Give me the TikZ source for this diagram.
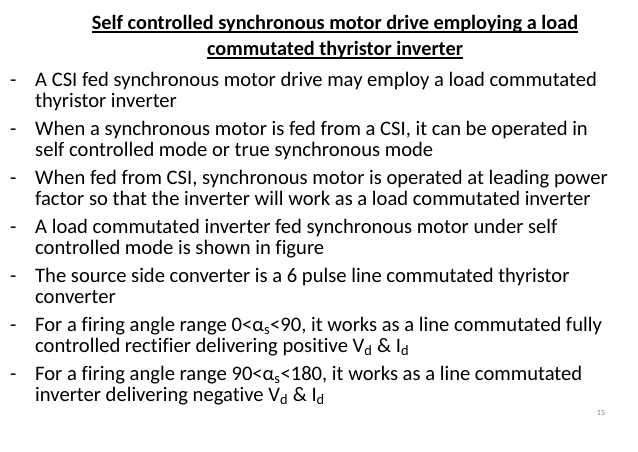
\documentclass[tikz,border=0pt]{standalone}
\usepackage{fontspec}
\setmainfont{Carlito}[Ligatures=NoCommon]
\begin{document}
\begin{tikzpicture}[x=1pt,y=-1pt,
  body/.style={anchor=base west,inner sep=0pt,font=\fontsize{20.6}{22}\selectfont},
  hyph/.style={anchor=base west,inner sep=0pt,font=\fontsize{20.6}{22}\selectfont},
  ttl/.style={anchor=base,inner sep=0pt,font=\fontsize{20.3}{22}\selectfont\bfseries}]
\useasboundingbox (0,0) rectangle (638,451);
\node[ttl] (t1) at (335,29) {Self controlled synchronous motor drive employing a load};
\node[ttl] (t2) at (335,55) {commutated thyristor inverter};
\draw[line width=1.3pt] ([yshift=-3pt]t1.base west) -- ([yshift=-3pt]t1.base east);
\draw[line width=1.3pt] ([yshift=-3pt]t2.base west) -- ([yshift=-3pt]t2.base east);
\foreach \i/\y in {1/86,2/135,3/184,4/233,5/282,6/331,7/380}{
  \node[hyph] (d\i) at (10,\y) {-};
}
\node[body] (a1) at (35,86) {A CSI fed synchronous motor drive may employ a load commutated};
\node[body] (a2) at (35,107) {thyristor inverter};
\node[body] (b1) at (35,135) {When a synchronous motor is fed from a CSI, it can be operated in};
\node[body] (b2) at (35,156) {self controlled mode or true synchronous mode};
\node[body] (c1) at (35,184) {When fed from CSI, synchronous motor is operated at leading power};
\node[body] (c2) at (35,205) {factor so that the inverter will work as a load commutated inverter};
\node[body] (e1) at (35,233) {A load commutated inverter fed synchronous motor under self};
\node[body] (e2) at (35,254) {controlled mode is shown in figure};
\node[body] (f1) at (35,282) {The source side converter is a 6 pulse line commutated thyristor};
\node[body] (f2) at (35,303) {converter};
\node[body] (g1) at (35,331) {For a firing angle range 0<α\textsubscript{s}<90, it works as a line commutated fully};
\node[body] (g2) at (35,352) {controlled rectifier delivering positive V\textsubscript{d} \& I\textsubscript{d}};
\node[body] (h1) at (35,380) {For a firing angle range 90<α\textsubscript{s}<180, it works as a line commutated};
\node[body] (h2) at (35,401) {inverter delivering negative V\textsubscript{d} \& I\textsubscript{d}};
\node[anchor=base,inner sep=0pt,font=\fontsize{8}{9}\selectfont,text=gray] (pn) at (601,415) {15};
\end{tikzpicture}
\end{document}
